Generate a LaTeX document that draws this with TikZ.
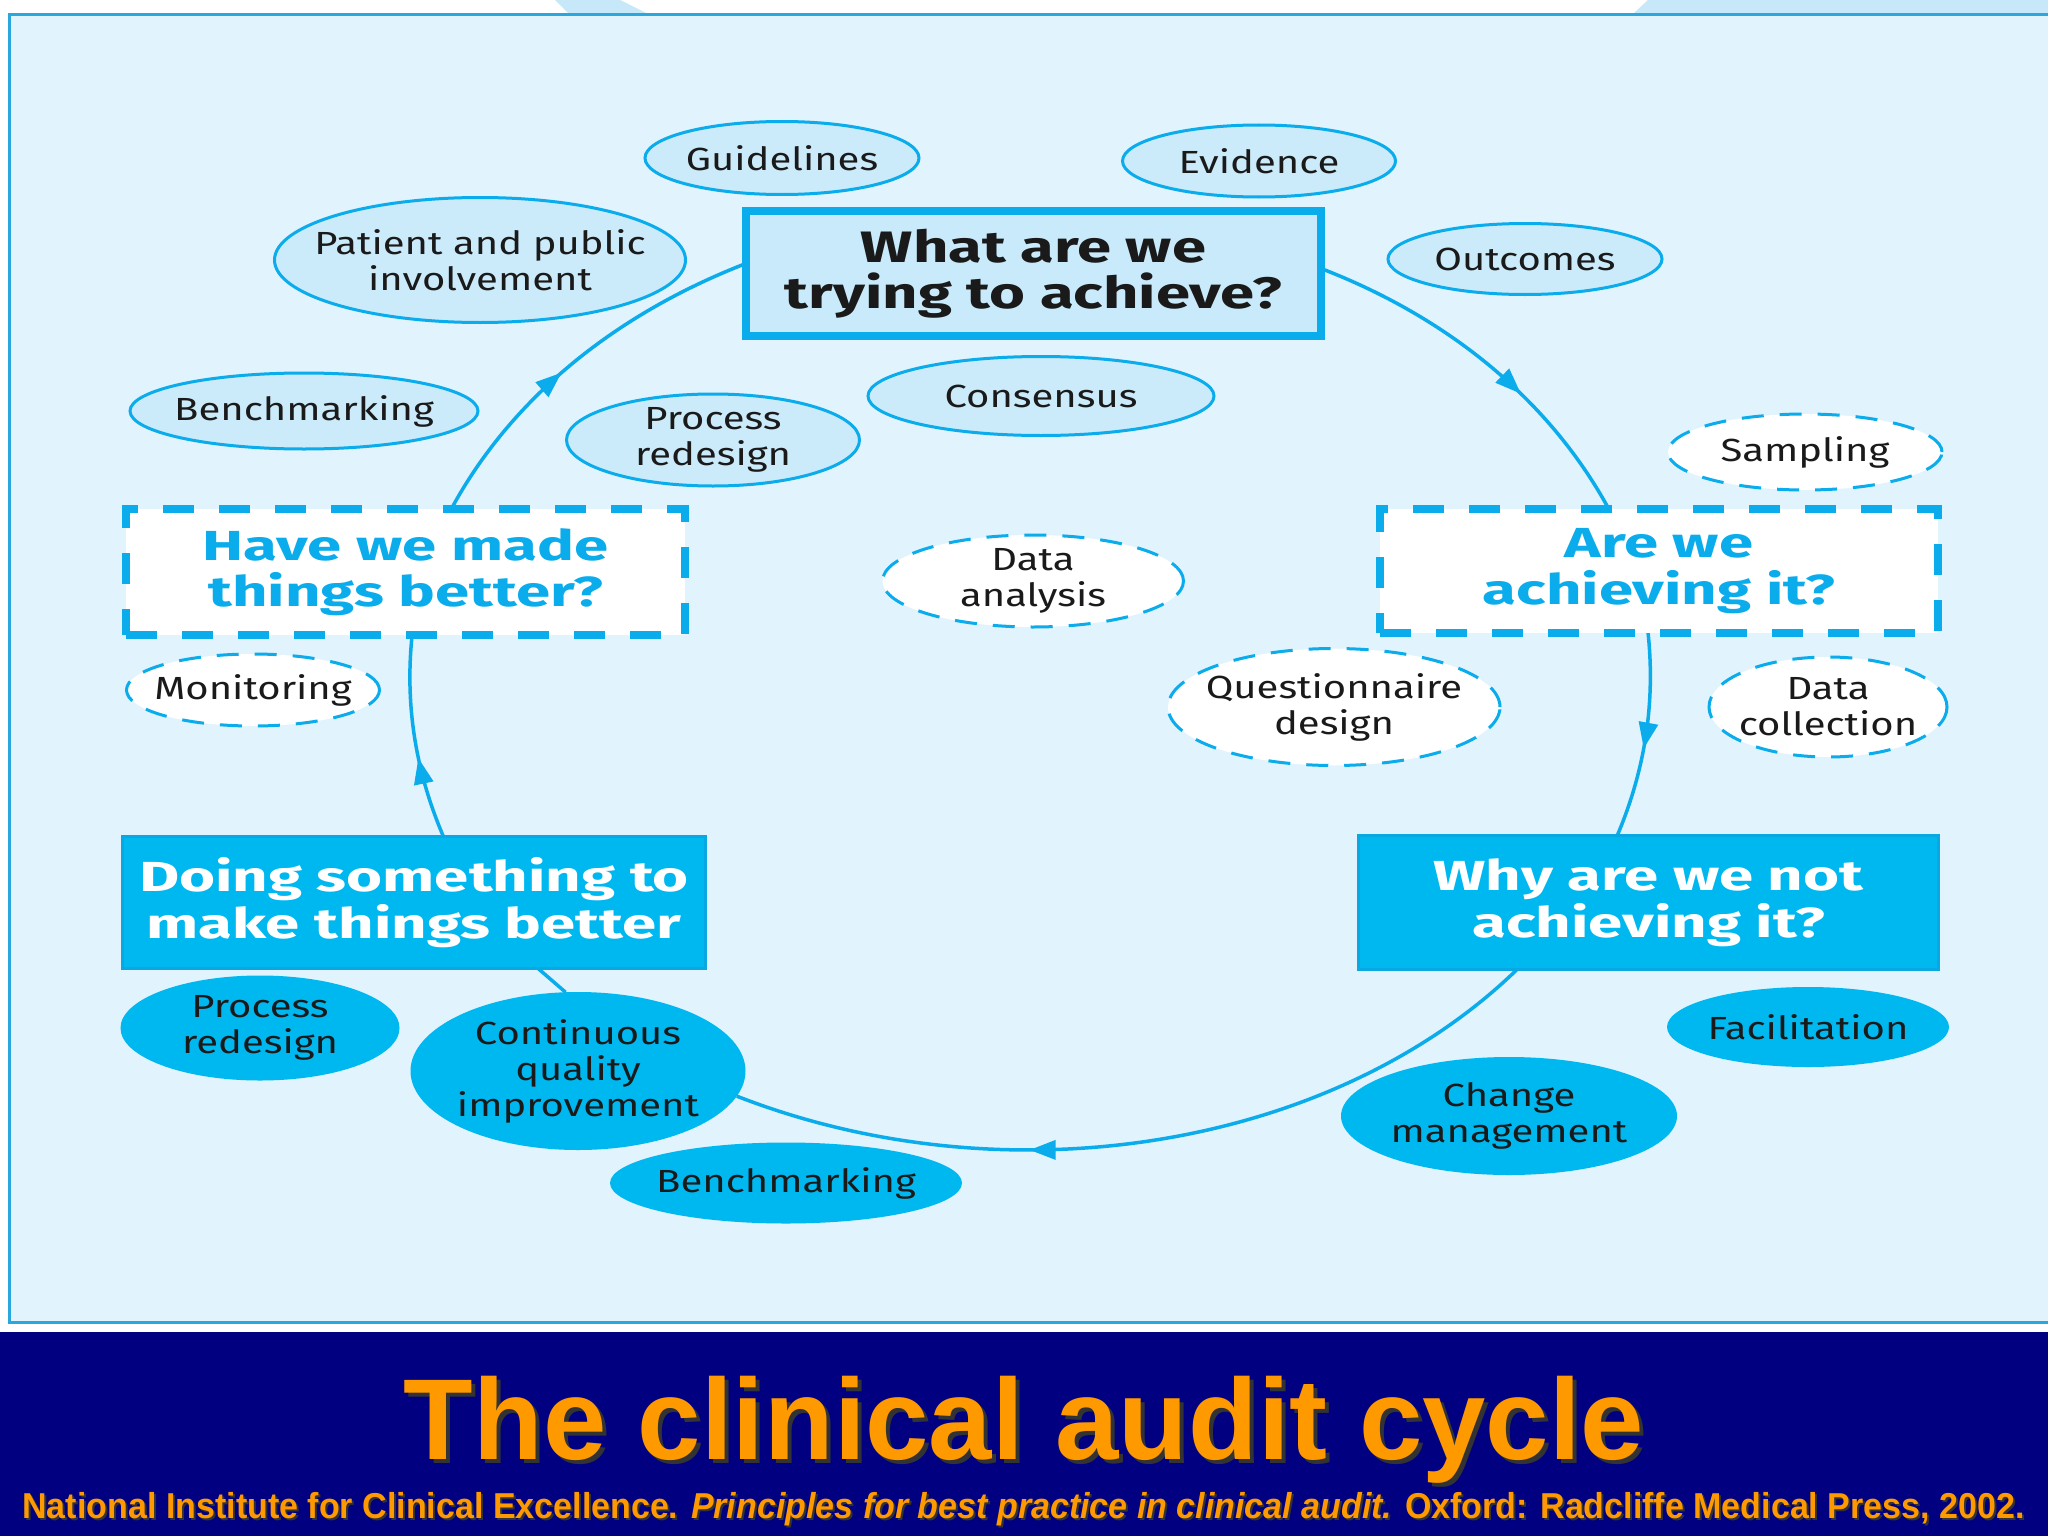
\documentclass[tikz,border=0pt]{standalone}
\usepackage{fontspec}
\usetikzlibrary{shapes.geometric,arrows.meta,decorations.markings}
\newfontfamily\labfont[FakeStretch=1.25]{Fira Sans}
\newfontfamily\boxfont[FakeStretch=1.47]{Fira Sans}
\newfontfamily\topboxfont[FakeStretch=1.40]{Fira Sans}
\newfontfamily\titlefont[FakeStretch=0.99]{Liberation Sans}
\newfontfamily\citefont[FakeStretch=0.945]{Liberation Sans}
\definecolor{panelbg}{HTML}{E1F3FD}
\definecolor{panelline}{HTML}{2AA8DE}
\definecolor{cyanline}{HTML}{0BACEB}
\definecolor{cyanfill}{HTML}{00B8F0}
\definecolor{cyanborder}{HTML}{0AA8E2}
\definecolor{ellfill}{HTML}{CBEBFA}
\definecolor{boxfill}{HTML}{C8EAFA}
\definecolor{navybg}{HTML}{000080}
\definecolor{titleorange}{HTML}{FF9900}
\definecolor{labtext}{HTML}{1A1A1A}
\definecolor{deco}{HTML}{C6E8F8}
\pgfdeclarelayer{back}
\pgfdeclarelayer{conn}
\pgfsetlayers{back,conn,main}
\tikzset{
  lab/.style={ellipse, font=\labfont\fontsize{32}{36}\selectfont, text=labtext, align=center, inner sep=-50pt, outer sep=0pt},
  sz/.style n args={2}{minimum width=#1pt, minimum height=#2pt},
  solidell/.style={lab, draw=cyanline, fill=ellfill, line width=3pt},
  dashell/.style={lab, draw=cyanline, fill=white, line width=3pt, dash pattern=on 22pt off 16pt},
  fillell/.style={lab, fill=cyanfill},
  qbox/.style={rectangle, inner sep=0pt, outer sep=0pt, align=center, font=\boxfont\bfseries\fontsize{42}{46.5}\selectfont},
  solidbox/.style={qbox, draw=cyanline, line width=8pt, fill=boxfill, text=labtext},
  dashbox/.style={qbox, draw=cyanline, line width=8pt, dash pattern=on 31pt off 25pt, fill=white, text=cyanline},
  fillbox/.style={qbox, draw=cyanborder, line width=3pt, fill=cyanfill, text=white},
  cyc/.style={draw=cyanline, line width=3.5pt},
  midarrow/.style={postaction={decorate}, decoration={markings, mark=at position #1 with {\arrow{Triangle[length=26pt,width=19pt]}}}},
}
\begin{document}
\begin{tikzpicture}[x=1pt,y=-1pt]
\useasboundingbox (0,0) rectangle (2048,1536);
\begin{pgfonlayer}{back}
\fill[white] (0,0) rectangle (2048,1536);
\fill[deco] (555,0) -- (620,0) -- (646,13) -- (568,13) -- cycle;
\fill[deco] (1648,0) -- (2048,0) -- (2048,13) -- (1634,13) -- cycle;
\filldraw[fill=panelbg, draw=panelline, line width=3pt] (9.5,14.5) rectangle (2070,1322.5);
\fill[navybg] (0,1332) rectangle (2048,1536);
\end{pgfonlayer}

% question boxes
\node[solidbox, sz={575}{125}, font=\topboxfont\bfseries\fontsize{44}{46}\selectfont] (A) at (1033.5,273.5) {What are we\\trying to achieve?};
\node[dashbox, sz={558}{124}] (B) at (1659,571) {Are we\\achieving it?};
\node[dashbox, sz={559}{126}] (C) at (405.5,572) {Have we made\\things better?};
\node[fillbox, sz={583}{132}] (D) at (414,902.5) {Doing something to\\make things better};
\node[fillbox, sz={580}{134}] (E) at (1648.5,902.5) {Why are we not\\achieving it?};

% light ellipses
\node[solidell, sz={274}{73}] (guide) at (782,158) {Guidelines};
\node[solidell, sz={273}{72}] (evid) at (1259,161) {Evidence};
\node[solidell, sz={411}{125}] (ppi) at (480,260) {Patient and public\\involvement};
\node[solidell, sz={274}{71}] (outc) at (1525,259) {Outcomes};
\node[solidell, sz={348}{76}] (benchA) at (304,411) {Benchmarking};
\node[solidell, sz={293}{92}] (procA) at (713,440) {Process\\redesign};
\node[solidell, sz={346}{79}] (cons) at (1041,396) {Consensus};

% dashed ellipses
\node[dashell, sz={274}{76}] (samp) at (1805,452) {Sampling};
\node[dashell, sz={301}{92}] (dana) at (1033,581) {Data\\analysis};
\node[dashell, sz={332}{117}] (quest) at (1334,707) {Questionnaire\\design};
\node[dashell, sz={238}{100}] (dcol) at (1828,707) {Data\\collection};
\node[dashell, sz={253}{72}] (moni) at (253,690) {Monitoring};

% filled ellipses
\node[fillell, sz={279}{105}] (procB) at (260,1028) {Process\\redesign};
\node[fillell, sz={335}{158}] (CQI) at (578,1071) {Continuous\\quality\\improvement};
\node[fillell, sz={352}{81}] (benchB) at (786,1183) {Benchmarking};
\node[fillell, sz={336}{118}] (chg) at (1509,1116) {Change\\management};
\node[fillell, sz={282}{80}] (fac) at (1808,1027) {Facilitation};

% cycle connectors
\begin{pgfonlayer}{conn}
\draw[cyc, midarrow=0.62] (A.1) .. controls (1452,319) and (1551,403) .. (B.129);
\draw[cyc, midarrow=0.56] (B.260) .. controls (1655.5,703.6) and (1644.7,770.8) .. (E.115);
\draw[cyc, midarrow=0.64] (E.207) .. controls (1332.1,1148.8) and (1006.4,1201.3) .. (CQI.351);
\draw[cyc] (CQI.99) -- (D.332);
\draw[cyc, midarrow=0.40] (D.66) .. controls (415.6,771.4) and (404.8,705) .. (C.276);
\draw[cyc, midarrow=0.45] (C.54) .. controls (509.5,401.3) and (611.4,315.7) .. (A.178);
\end{pgfonlayer}

% title and citation
\node[font=\titlefont\bfseries\fontsize{115}{115}\selectfont, text=black!80, anchor=base] (titleshadow) at (1028,1463) {The clinical audit cycle};
\node[font=\titlefont\bfseries\fontsize{115}{115}\selectfont, text=titleorange, anchor=base] (title) at (1024,1459) {The clinical audit cycle};
\node[font=\citefont\bfseries\fontsize{36}{36}\selectfont, text=black!80, anchor=base] (citeshadow) at (1025.5,1520) {National Institute for Clinical Excellence. \textit{Principles for best practice in clinical audit.} Oxford: Radcliffe Medical Press, 2002.};
\node[font=\citefont\bfseries\fontsize{36}{36}\selectfont, text=titleorange, anchor=base] (cite) at (1023.5,1518) {National Institute for Clinical Excellence. \textit{Principles for best practice in clinical audit.} Oxford: Radcliffe Medical Press, 2002.};
\end{tikzpicture}
\end{document}
